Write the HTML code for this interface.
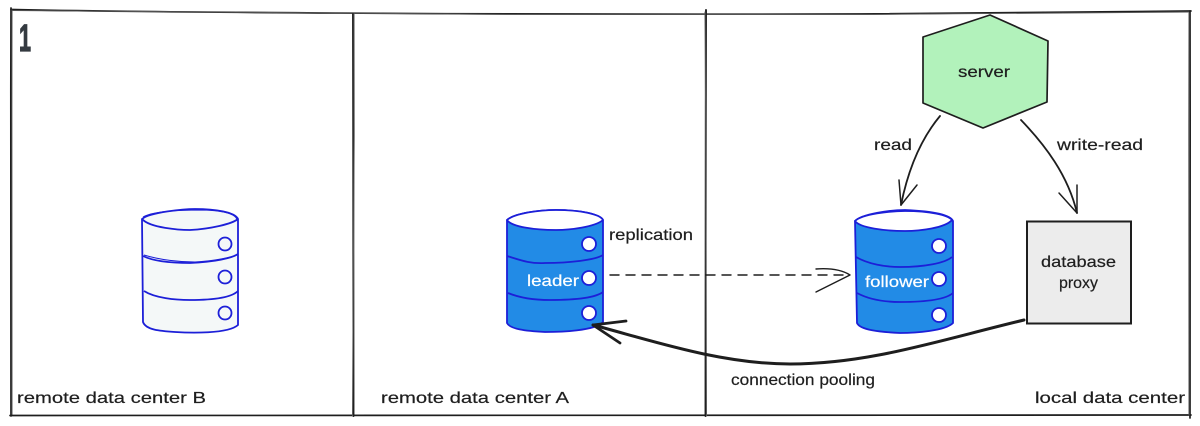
<!DOCTYPE html>
<html>
<head>
<meta charset="utf-8">
<style>
html,body{margin:0;padding:0;background:#fff;}
svg{display:block;}
text{font-family:"Liberation Sans","DejaVu Sans",sans-serif;font-size:16px;fill:#1e1e1e;stroke:#1e1e1e;stroke-width:0.2px;}
.w{fill:#fff;stroke:#fff;}
.l{fill:none;stroke:#1e1e1e;stroke-linecap:round;stroke-linejoin:round;}
.g{fill:none;stroke:#555;stroke-linecap:round;stroke-linejoin:round;}
.b{stroke:#1c1fd8;stroke-width:1.800;stroke-linejoin:round;}
.bf{fill:none;stroke:#1c1fd8;stroke-width:1;stroke-linejoin:round;}
</style>
</head>
<body>
<svg width="1200" height="426" viewBox="0 0 1200 426" xmlns="http://www.w3.org/2000/svg">
<rect width="1200" height="426" fill="#fff"/>

<!-- frames -->
<path class="l" stroke-width="1.700" d="M11 9.500 C120 12 500 15 860 14 C1000 13 1100 12 1191 11"/>
<path class="g" stroke-width="1" d="M12 10.500 C200 14 600 15 860 14.500 C1000 13.500 1100 12.500 1190 12"/>
<path class="l" stroke-width="1.700" d="M11 8 C10.500 150 11 300 11 416"/>
<path class="g" stroke-width="1" d="M12 10 C12 150 11 300 12 415"/>
<path class="l" stroke-width="1.700" d="M10 415.500 C300 416 800 415 1191 415"/>
<path class="l" stroke-width="1.700" d="M1190 11 C1190.500 150 1189.500 300 1190 418"/>
<path class="g" stroke-width="1" d="M1189 13 C1188.500 150 1189 300 1189 415"/>
<path class="l" stroke-width="1.900" d="M353 14 C353.500 150 353 300 353.500 416"/>
<path class="g" stroke-width="1" d="M354 14 C354.500 150 354 300 352.500 416"/>
<path class="l" stroke-width="1.900" d="M706 10 C705.500 150 706 300 705.500 416"/>
<path class="g" stroke-width="1" d="M705 12 C706.500 150 705 300 706.500 416"/>

<text x="19" y="51" style="font-size:38px;font-weight:bold;fill:#343a40;stroke:#343a40;stroke-width:1.200px" textLength="12" lengthAdjust="spacingAndGlyphs">1</text>

<!-- Cylinder B -->
<path class="b" fill="#f4f8f8" d="M142 219 C150 212 185 209 195 209 C215 209 235 212 238 219 L238 325 C228 334 190 333 175 332 C160 331 146 330 143 322 Z"/>
<path class="b" fill="none" d="M142 219 C150 228 180 230 190 230 C210 229 232 224 238 219"/>
<path class="b" fill="none" d="M143 256 C155 262 175 263 190 263 C215 262 232 258 238 254"/>
<path class="b" fill="none" d="M144 291 C155 298 175 300 190 300 C215 300 232 297 238 291"/>
<path class="bf" d="M143 217 C155 210 190 210 205 210 C225 211 236 214 237 220 M144 255 C160 260 180 262 195 262 C215 261 232 257 237 255"/>
<circle class="b" cx="225" cy="244" r="6.500" fill="#f4f8f8"/>
<circle class="b" cx="225" cy="277" r="6.500" fill="#f4f8f8"/>
<circle class="b" cx="225" cy="313" r="6.500" fill="#f4f8f8"/>

<!-- Leader -->
<path class="b" fill="#228be6" d="M507 220 C515 213 540 210 556 210 C580 210 600 214 603 220 L603 322 C595 331 560 332 545 332 C525 331 510 329 507 323 Z"/>
<path class="b" fill="#fff" d="M507 220 C515 213 540 210 556 210 C580 210 600 214 603 220 C595 227 570 230 556 230 C535 230 512 227 507 220 Z"/>
<path class="b" fill="none" d="M507 256 C520 260 530 264 545 263 C570 263 595 260 603 255"/>
<path class="b" fill="none" d="M508 293 C520 298 535 300 550 300 C575 300 595 298 603 292"/>
<circle class="b" cx="589" cy="244" r="7" fill="#fff"/>
<circle class="b" cx="589" cy="278" r="7" fill="#fff"/>
<circle class="b" cx="589" cy="313" r="7" fill="#fff"/>
<text class="w" x="527" y="286" textLength="52" lengthAdjust="spacingAndGlyphs">leader</text>

<!-- Follower -->
<path class="b" fill="#228be6" d="M855 221 C862 214 890 210 905 210 C930 211 950 214 953 221 L953 323 C945 331 915 333 900 333 C880 332 860 330 857 323 Z"/>
<path class="b" fill="#fff" d="M855 221 C862 214 890 211 905 211 C930 211 948 215 952 220 C945 228 920 231 905 231 C885 231 860 228 855 221 Z"/>
<path class="b" fill="none" d="M856 257 C868 264 885 267 900 267 C925 267 945 263 952 257"/>
<path class="b" fill="none" d="M857 293 C870 300 885 302 900 302 C925 302 945 300 953 293"/>
<circle class="b" cx="939" cy="246" r="7" fill="#fff"/>
<circle class="b" cx="939" cy="279" r="7" fill="#fff"/>
<circle class="b" cx="939" cy="315" r="7" fill="#fff"/>
<text class="w" x="865" y="287" textLength="64" lengthAdjust="spacingAndGlyphs">follower</text>

<!-- Hexagon -->
<polygon points="990,15 1048,41 1047,102 983,128 923,103 923,37" fill="#b2f2bb" stroke="#1e1e1e" stroke-width="1.700" stroke-linejoin="round"/>
<text x="958" y="77" textLength="52" lengthAdjust="spacingAndGlyphs">server</text>

<!-- Proxy box -->
<rect x="1027" y="221.500" width="104" height="102" fill="#ececec" stroke="#1e1e1e" stroke-width="2"/>
<text x="1041" y="267" textLength="75" lengthAdjust="spacingAndGlyphs">database</text>
<text x="1059" y="288" textLength="39" lengthAdjust="spacingAndGlyphs">proxy</text>

<!-- read arrow -->
<path class="l" stroke-width="1.800" d="M940 116 C920 140 908 170 901 205"/>
<path class="l" stroke-width="1.500" d="M899 180 L901 205 L917 185"/>
<!-- write-read arrow -->
<path class="l" stroke-width="1.800" d="M1021 120 C1045 145 1068 175 1077 213"/>
<path class="l" stroke-width="1.500" d="M1077 185 L1077 213 L1059 193"/>

<!-- dashed replication -->
<path class="l" stroke-width="1.400" stroke-dasharray="9 7" d="M610 275 L850 275"/>
<path class="l" stroke-width="1.400" d="M816 269 C830 268 842 270 850 275 L816 292"/>

<!-- connection pooling arrow -->
<path class="l" stroke-width="3" d="M1024 320 C940 340 870 364 790 364 C720 364 650 340 593 325"/>
<path class="l" stroke-width="2.800" d="M626 321 L593 325 L620 343"/>

<!-- labels -->
<text x="609" y="240" textLength="84" lengthAdjust="spacingAndGlyphs">replication</text>
<text x="874" y="150" textLength="38" lengthAdjust="spacingAndGlyphs">read</text>
<text x="1057" y="150" textLength="86" lengthAdjust="spacingAndGlyphs">write-read</text>
<text x="731" y="385" textLength="144" lengthAdjust="spacingAndGlyphs">connection pooling</text>
<text x="17" y="403" textLength="189" lengthAdjust="spacingAndGlyphs">remote data center B</text>
<text x="381" y="403" textLength="188" lengthAdjust="spacingAndGlyphs">remote data center A</text>
<text x="1035" y="403" textLength="150" lengthAdjust="spacingAndGlyphs">local data center</text>
</svg>
</body>
</html>
